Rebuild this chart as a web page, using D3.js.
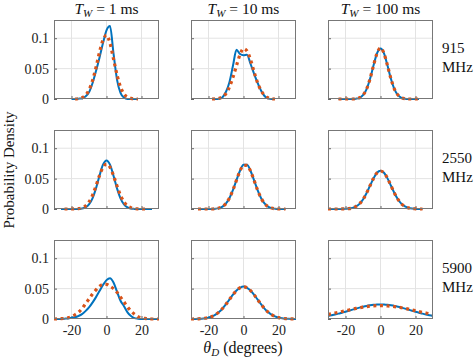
<!DOCTYPE html>
<html><head><meta charset="utf-8">
<script src="https://cdn.jsdelivr.net/npm/d3@7"></script>
<style>
html,body{margin:0;padding:0;background:#fff;}
svg{display:block;}
svg text{font-family:'Liberation Serif','Times New Roman','DejaVu Serif',serif !important;}
</style></head>
<body><svg id="chart" width="474" height="358"></svg>
<script>
// ---- data ----
const thetaDeg = [-30,-28,-26,-24,-22,-20,-18,-16,-14,-12,-10,-8,-6,-4,-2,0,2,4,6,8,10,12,14,16,18,20,22,24,26,28,30];
const windowTitles = ["1 ms", "10 ms", "100 ms"];
const freqLabels = ["915", "2550", "5900"];
const xTicks = [-20, 0, 20];
const yTicks = [0, 0.05, 0.1];
const yTickLabels = ["0", "0.05", "0.1"];
const N = null;
// 915 MHz
const meas915_1  = [N,N,N,N,N,0,0,0.0005,0.001,0.004,0.011,0.026,0.046,0.068,0.092,0.113,0.12,0.075,0.032,0.01,0.002,0,0,0,0,N,N,N,N,N,N];
const model915_1 = [N,N,N,N,N,N,0,0.0006,0.002,0.006,0.015,0.03,0.052,0.077,0.097,0.105,0.092,0.066,0.04,0.02,0.008,0.003,0.001,0,0,N,N,N,N,N,N];
const meas915_10  = [N,N,N,N,N,N,0,0,0.0005,0.003,0.012,0.028,0.055,0.081,0.074,0.072,0.073,0.058,0.042,0.027,0.014,0.005,0.001,0,0,N,N,N,N,N,N];
const model915_10 = [N,N,N,N,N,N,0,0.0003,0.001,0.0036,0.009,0.02,0.036,0.055,0.073,0.083,0.079,0.065,0.045,0.027,0.014,0.006,0.002,0.0005,0,N,N,N,N,N,N];
const meas915_100  = [N,N,N,0,0,0,0,0,0.0005,0.002,0.0063,0.016,0.033,0.055,0.075,0.083,0.075,0.055,0.033,0.016,0.0063,0.002,0.0005,0,0,0,0,N,N,N,N];
const model915_100 = [N,N,N,0,0,0,0,0,0.0005,0.002,0.0065,0.016,0.033,0.055,0.075,0.084,0.075,0.055,0.033,0.016,0.0065,0.002,0.0005,0,0,0,0,N,N,N,N];
// 2550 MHz
const meas2550_1  = [N,N,0,0,0,0,0,0.0002,0.0008,0.0027,0.0075,0.0176,0.034,0.0548,0.073,0.08,0.073,0.0548,0.034,0.0176,0.0075,0.0027,0.0008,0.0002,0,0,0,0,0,N,N];
const model2550_1 = [N,N,N,0,0,0,0.0002,0.0006,0.002,0.0051,0.0116,0.0226,0.038,0.055,0.0687,0.074,0.0687,0.055,0.038,0.0226,0.0116,0.0051,0.002,0.0006,0.0002,0,0,0,N,N,N];
const meas2550_10  = [N,N,0,0,0,0,0,0.0005,0.0015,0.004,0.0091,0.0182,0.0315,0.0475,0.063,0.073,0.073,0.063,0.0475,0.0315,0.0182,0.0091,0.004,0.0015,0.0005,0,0,0,N,N,N];
const model2550_10 = [N,N,0,0,0,0,0,0.0005,0.0015,0.004,0.0091,0.0182,0.0315,0.0475,0.0626,0.0718,0.0718,0.0626,0.0475,0.0315,0.0182,0.0091,0.004,0.0015,0.0005,0,0,0,N,N,N];
const meas2550_100  = [0,0,0,0,0.0001,0.0003,0.0007,0.0018,0.0042,0.0085,0.0157,0.0259,0.0382,0.0504,0.0596,0.063,0.0596,0.0504,0.0382,0.0259,0.0157,0.0085,0.0042,0.0018,0.0007,0.0003,0,0,N,N,N];
const model2550_100 = [0,0,0,0,0.0001,0.0003,0.0007,0.0018,0.0042,0.0085,0.0157,0.0259,0.0382,0.0504,0.0596,0.0625,0.0596,0.0504,0.0382,0.0259,0.0157,0.0085,0.0042,0.0018,0.0007,0.0003,0,0,N,N,N];
// 5900 MHz
const meas5900_1  = [0,0,0,0.0005,0.001,0.002,0.003,0.005,0.008,0.013,0.019,0.027,0.036,0.046,0.056,0.064,0.067,0.06,0.045,0.03,0.021,0.011,0.005,0.0015,0.0005,0,0,0,0,0,0];
const model5900_1 = [0,0.0003,0.0005,0.001,0.002,0.004,0.007,0.011,0.017,0.025,0.033,0.041,0.048,0.054,0.057,0.057,0.054,0.05,0.044,0.036,0.028,0.02,0.013,0.008,0.004,0.002,0.001,0.0003,0,0,0];
const meas5900_10  = [0,0.0001,0.0003,0.0006,0.0012,0.0023,0.0042,0.0072,0.0115,0.0172,0.0243,0.0322,0.04,0.0468,0.0514,0.0535,0.0514,0.0468,0.04,0.0322,0.0243,0.0172,0.0115,0.0072,0.0042,0.0023,0.0012,0.0006,0.0003,0.0001,0];
const model5900_10 = [0,0.0001,0.0003,0.0006,0.0012,0.0023,0.0042,0.0072,0.0115,0.0172,0.0243,0.0322,0.04,0.0468,0.0514,0.053,0.0514,0.0468,0.04,0.0322,0.0243,0.0172,0.0115,0.0072,0.0042,0.0023,0.0012,0.0006,0.0003,0.0001,0];
const meas5900_100  = [0.005,0.0062,0.0074,0.0088,0.0104,0.012,0.0137,0.0154,0.0171,0.0187,0.0202,0.0215,0.0225,0.0233,0.0238,0.024,0.0238,0.0233,0.0225,0.0215,0.0202,0.0187,0.0171,0.0154,0.0137,0.012,0.0104,0.0088,0.0074,0.0062,0.005];
const model5900_100 = [0.0075,0.0086,0.0098,0.011,0.0123,0.0136,0.0149,0.0162,0.0174,0.0185,0.0195,0.0204,0.0211,0.0216,0.0219,0.022,0.0219,0.0216,0.0211,0.0204,0.0195,0.0185,0.0174,0.0162,0.0149,0.0136,0.0123,0.011,0.0098,0.0086,0.0075];

const measGrid = [[meas915_1, meas915_10, meas915_100],[meas2550_1, meas2550_10, meas2550_100],[meas5900_1, meas5900_10, meas5900_100]];
const modelGrid = [[model915_1, model915_10, model915_100],[model2550_1, model2550_10, model2550_100],[model5900_1, model5900_10, model5900_100]];

// ---- layout ----
const FONT = "'Liberation Serif','Times New Roman','DejaVu Serif',serif";
const svg = d3.select("#chart").attr("font-family", FONT);
const colX = [54, 191, 328], rowY = [20, 130, 240];
const pw = 105, ph = 79;
const blue = "#0072BD", orange = "#D95319";

const defs = svg.append("defs");

for (let r = 0; r < 3; r++) {
  for (let c = 0; c < 3; c++) {
    const x = d3.scaleLinear().domain([-30, 30]).range([colX[c], colX[c] + pw]);
    const y = d3.scaleLinear().domain([0, 0.13]).range([rowY[r] + ph, rowY[r]]);
    const g = svg.append("g");
    const cid = `clip${r}${c}`;
    defs.append("clipPath").attr("id", cid).append("rect")
      .attr("x", colX[c]).attr("y", rowY[r] - 2).attr("width", pw).attr("height", ph + 4);
    // grid
    g.selectAll(".gx").data(xTicks).join("line")
      .attr("x1", d => x(d)).attr("x2", d => x(d)).attr("y1", rowY[r]).attr("y2", rowY[r] + ph)
      .attr("stroke", "#e3e3e3").attr("stroke-width", 1);
    g.selectAll(".gy").data(yTicks.slice(1)).join("line")
      .attr("x1", colX[c]).attr("x2", colX[c] + pw).attr("y1", d => y(d)).attr("y2", d => y(d))
      .attr("stroke", "#e3e3e3").attr("stroke-width", 1);
    // axes (inward ticks)
    const ax = d3.axisBottom(x).tickValues(xTicks).tickSizeInner(-3).tickSizeOuter(0)
      .tickFormat(r === 2 ? (d => d < 0 ? "-" + Math.abs(d) : d) : "");
    const axG = g.append("g").attr("transform", `translate(0,${rowY[r] + ph})`).call(ax)
      .attr("font-family", FONT).attr("font-size", 14);
    axG.select(".domain").remove();
    axG.selectAll("line").attr("stroke", "#666");
    axG.selectAll("text").attr("fill", "#222").attr("y", 3).attr("dy", "0.95em");
    const ay = d3.axisLeft(y).tickValues(yTicks).tickSizeInner(-3).tickSizeOuter(0)
      .tickFormat(c === 0 ? ((d, i) => yTickLabels[i]) : "");
    const ayG = g.append("g").attr("transform", `translate(${colX[c]},0)`).call(ay)
      .attr("font-family", FONT).attr("font-size", 14);
    ayG.select(".domain").remove();
    ayG.selectAll("line").attr("stroke", "#666");
    ayG.selectAll("text").attr("fill", "#222").attr("x", -5);
    // curves
    const line = d3.line().defined(d => d[1] !== null)
      .x(d => x(d[0])).y(d => y(d[1])).curve(d3.curveMonotoneX);
    const cg = g.append("g").attr("clip-path", `url(#${cid})`);
    cg.append("path").attr("d", line(thetaDeg.map((t, i) => [t, measGrid[r][c][i]])))
      .attr("fill", "none").attr("stroke", blue).attr("stroke-width", 2);
    cg.append("path").attr("d", line(thetaDeg.map((t, i) => [t, modelGrid[r][c][i]])))
      .attr("fill", "none").attr("stroke", orange).attr("stroke-width", 3.2)
      .attr("stroke-dasharray", "3,3.6");
    // box
    g.append("rect").attr("x", colX[c] + 0.5).attr("y", rowY[r] + 0.5).attr("width", pw - 1).attr("height", ph - 1)
      .attr("fill", "none").attr("stroke", "#777").attr("stroke-width", 1);
  }
}

// column titles
windowTitles.forEach((t, c) => {
  const tx = svg.append("text").attr("x", colX[c] + pw / 2).attr("y", 14)
    .attr("text-anchor", "middle").attr("font-size", 15.5).attr("fill", "#111");
  tx.append("tspan").attr("font-style", "italic").text("T");
  tx.append("tspan").attr("font-style", "italic").attr("font-size", 11).attr("dy", 3).text("W");
  tx.append("tspan").attr("dy", -3).text(" = " + t);
});

// row labels
freqLabels.forEach((f, r) => {
  svg.append("text").attr("x", 442).attr("y", rowY[r] + 33).attr("font-size", 15).attr("fill", "#111").text(f);
  svg.append("text").attr("x", 442).attr("y", rowY[r] + 52).attr("font-size", 15).attr("fill", "#111").text("MHz");
});

// y label
svg.append("text").attr("transform", "translate(14,170) rotate(-90)")
  .attr("text-anchor", "middle").attr("font-size", 15).attr("fill", "#111").text("Probability Density");

// x label
const xl = svg.append("text").attr("x", 243).attr("y", 353).attr("text-anchor", "middle")
  .attr("font-size", 16).attr("fill", "#111");
xl.append("tspan").attr("font-style", "italic").text("θ");
xl.append("tspan").attr("font-style", "italic").attr("font-size", 11).attr("dy", 3).text("D");
xl.append("tspan").attr("dy", -3).text(" (degrees)");
</script>
</body></html>
